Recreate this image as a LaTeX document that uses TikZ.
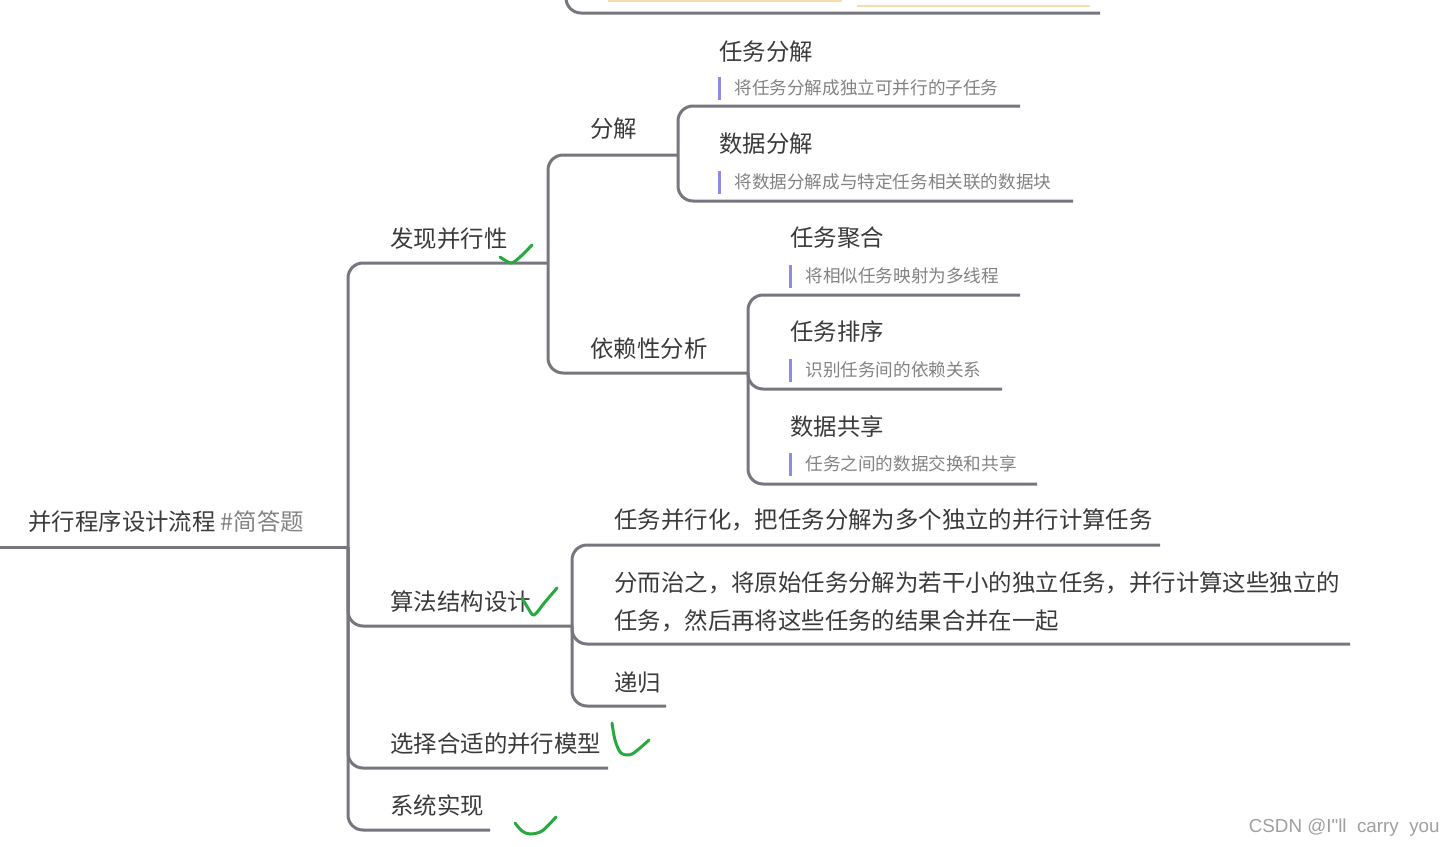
\documentclass[tikz,border=0pt]{standalone}
\usepackage{fontspec}
\setmainfont{Noto Sans CJK SC}
\newfontfamily\wmfont{Liberation Sans}[Ligatures=TeXOff]
\usepackage{xcolor}
\usepackage{tikz}
\usetikzlibrary{positioning,calc}

\definecolor{linegray}{RGB}{118,118,126}
\definecolor{txtgray}{RGB}{58,58,58}
\definecolor{descgray}{RGB}{130,130,130}
\definecolor{barblue}{RGB}{140,140,228}
\definecolor{tickgreen}{RGB}{40,168,64}
\definecolor{tagyellow}{RGB}{246,222,170}

\begin{document}
\begin{tikzpicture}[x=0.5pt, y=-0.5pt,
  topic/.style  = {anchor=base west, inner sep=0pt, text=txtgray,
                   font=\fontsize{11.7}{19}\selectfont},
  descr/.style  = {anchor=base west, inner sep=0pt, text=descgray,
                   font=\fontsize{8.8}{12}\selectfont},
  branch/.style = {draw=linegray, line width=1.5pt, rounded corners=7.5pt},
  bar/.style    = {draw=barblue, line width=1.5pt},
  tick/.style   = {draw=tickgreen, line width=1.5pt, line cap=round, line join=round}
]
\useasboundingbox (0,0) rectangle (1454,846);

% , - cut-off branch at the top , -
\coordinate (top-a) at (566,-20);
\coordinate (top-e) at (1100,13);
\draw[branch] (top-a) |- (top-e);
\draw[tagyellow, line width=0.6pt] (608,1) -- (842,1);
\draw[tagyellow, line width=0.6pt] (857,6) -- (1090,6);

% , - Root , -
\node[topic] (root) at (28,530) {并行程序设计流程 \textcolor{descgray}{\#简答题}};
\coordinate (root-s) at (0,547);
\coordinate (root-e) at (348,547);

% , - First level , -
\node[topic] (faxian)  at (390,247) {发现并行性};
\node[topic] (suanfa)  at (390,610) {算法结构设计};
\node[topic] (moxing)  at (390,752) {选择合适的并行模型};
\node[topic] (shixian) at (390,814) {系统实现};
\coordinate (faxian-e)  at (548,263);
\coordinate (suanfa-e)  at (572,626);
\coordinate (moxing-e)  at (608,768);
\coordinate (shixian-e) at (490,830);

% , - Finding parallelism , -
\node[topic] (fenjie) at (590,137) {分解};
\node[topic] (yilai)  at (590,357) {依赖性分析};
\coordinate (fenjie-e) at (678,155);
\coordinate (yilai-e)  at (748,373);

\node[topic] (rwfj)   at (719,60)    {任务分解};
\node[descr] (rwfj-d) at (734,94.5)  {将任务分解成独立可并行的子任务};
\node[topic] (sjfj)   at (719,152)   {数据分解};
\node[descr] (sjfj-d) at (734,188.5) {将数据分解成与特定任务相关联的数据块};
\coordinate (rwfj-e) at (1020,106);
\coordinate (sjfj-e) at (1073,201);

\node[topic] (rwjh)   at (790,246)   {任务聚合};
\node[descr] (rwjh-d) at (805,282.5) {将相似任务映射为多线程};
\node[topic] (rwpx)   at (790,340)   {任务排序};
\node[descr] (rwpx-d) at (805,376.5) {识别任务间的依赖关系};
\node[topic] (sjgx)   at (790,435)   {数据共享};
\node[descr] (sjgx-d) at (805,470.5) {任务之间的数据交换和共享};
\coordinate (rwjh-e) at (1020,295);
\coordinate (rwpx-e) at (1002,389);
\coordinate (sjgx-e) at (1037,484);

% , - Algorithm structure , -
\node[topic] (rwbx) at (614,528) {任务并行化，把任务分解为多个独立的并行计算任务};
\node[topic, align=left] (fzzz) at (614,629)
  {分而治之，将原始任务分解为若干小的独立任务，并行计算这些独立的\\任务，然后再将这些任务的结果合并在一起};
\node[topic] (digui) at (614,691) {递归};
\coordinate (rwbx-e)  at (1160,545);
\coordinate (fzzz-e)  at (1350,644);
\coordinate (digui-e) at (666,706);

% , - Branches , -
\draw[branch] (root-s) -- (root-e);
\foreach \c in {faxian,suanfa,moxing,shixian}
  \draw[branch] (root-e) |- (\c-e);
\foreach \c in {fenjie,yilai}
  \draw[branch] (faxian-e) |- (\c-e);
\foreach \c in {rwfj,sjfj}
  \draw[branch] (fenjie-e) |- (\c-e);
\foreach \c in {rwjh,rwpx,sjgx}
  \draw[branch] (yilai-e) |- (\c-e);
\foreach \c in {rwbx,fzzz,digui}
  \draw[branch] (suanfa-e) |- (\c-e);

% , - Note bars , -
\foreach \d in {rwfj-d,sjfj-d,rwjh-d,rwpx-d,sjgx-d}
  \draw[bar] ([xshift=-7.25pt]\d.base west) ++(0,-17.5) -- ++(0,22.5);

% , - Hand-drawn ticks , -
\draw[tick] plot[smooth] coordinates {(500,257) (511,263) (520,257) (532,245)};
\draw[tick] plot[smooth] coordinates {(522,598) (528,608) (534,615) (545,602) (557,588)};
\draw[tick] plot[smooth] coordinates {(612,723) (615,740) (621,753) (632,754) (649,740)};
\draw[tick] plot[smooth] coordinates {(515,823) (522,831) (530,834) (542,831) (556,817)};

% , - Watermark , -
\node[anchor=base east, inner sep=0pt, text=gray!75,
      font=\wmfont\fontsize{9.4}{11}\selectfont] (wm) at (1440,832)
  {CSDN @I"ll\ \ carry\ \ you};

\end{tikzpicture}
\end{document}
